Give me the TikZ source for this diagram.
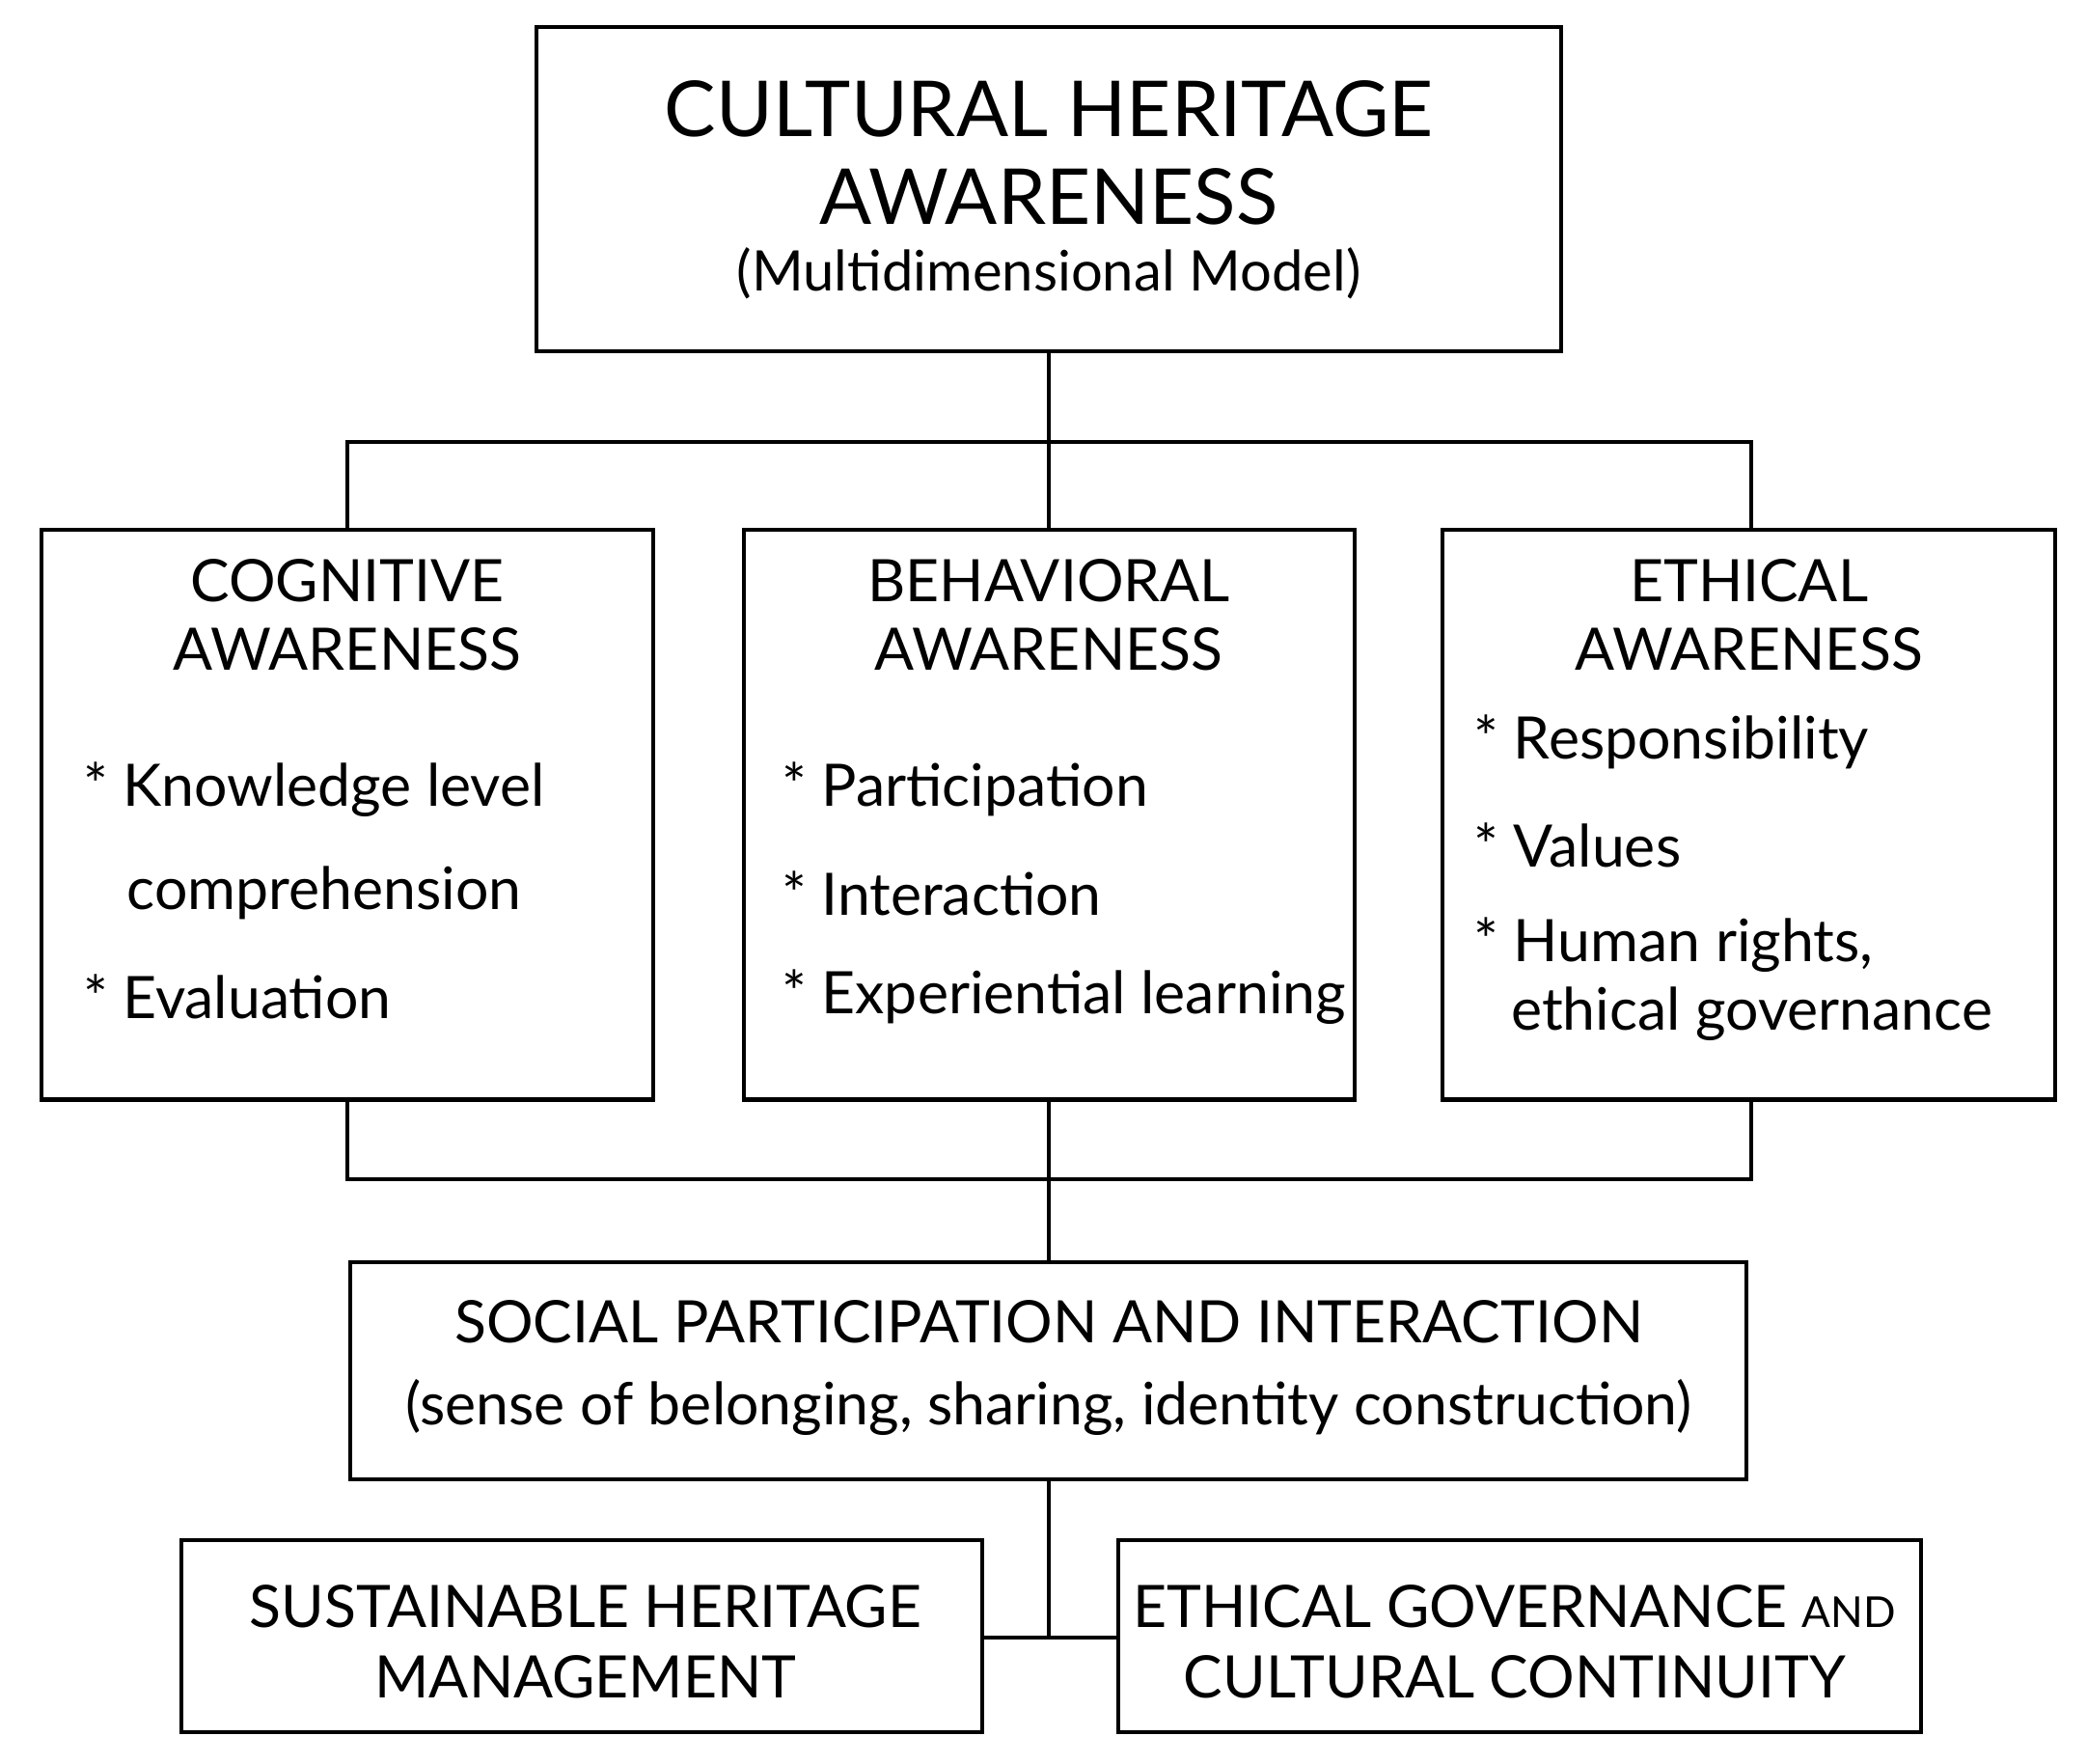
\documentclass[tikz,border=0pt]{standalone}
\usepackage{fontspec}
\setmainfont{Lato}
\begin{document}
\begin{tikzpicture}[x=0.5pt,y=-0.5pt,
  box/.style={draw,line width=1.5pt},
  ln/.style={line width=1.5pt},
  big/.style={font=\fontsize{29}{34}\selectfont},
  mid/.style={font=\fontsize{21}{25}\selectfont},
  txt/.style={font=\fontsize{22}{26}\selectfont,inner sep=0pt}]
\useasboundingbox (0,0) rectangle (1568,1325);
\draw[box] (403,20) rectangle (1173,264);
\draw[box] (31,398) rectangle (491,826);
\draw[box] (559,398) rectangle (1018,826);
\draw[box] (1084,398) rectangle (1544,826);
\draw[box] (263,948) rectangle (1312,1111);
\draw[box] (136,1157) rectangle (738,1301);
\draw[box] (840,1157) rectangle (1443,1301);
\coordinate (t) at (788,264); \coordinate (tj) at (788,332);
\coordinate (tl) at (261,332); \coordinate (tr) at (1316,332);
\draw[ln] (t) -- (tj) -- (788,398);
\draw[ln] (261,398) -- (tl) -- (tr) -- (1316,398);
\draw[ln] (261,826) -- (261,886) -- (1316,886) -- (1316,826);
\draw[ln] (788,826) -- (788,948);
\draw[ln] (788,1111) -- (788,1230);
\draw[ln] (738,1230) -- (840,1230);
\node[big,inner sep=0pt] (t1) at (788,82) {CULTURAL HERITAGE};
\node[big,inner sep=0pt] (t2) at (788,148) {AWARENESS};
\node[mid,inner sep=0pt] (t3) at (788,205) {(Multidimensional Model)};
\foreach \x/\a/\n in {261/COGNITIVE/c,788/BEHAVIORAL/b,1314/ETHICAL/e}{
  \node[txt] (\n1) at (\x,436) {\a};
  \node[txt] (\n2) at (\x,488) {AWARENESS};}
\node[txt,anchor=west] (c3) at (62,593) {* Knowledge level};
\node[txt,anchor=west] (c4) at (95,671) {comprehension};
\node[txt,anchor=west] (c5) at (62,749) {* Evaluation};
\node[txt,anchor=west] (b3) at (587,593) {* Participation};
\node[txt,anchor=west] (b4) at (587,671) {* Interaction};
\node[txt,anchor=west] (b5) at (587,749) {* Experiential learning};
\node[txt,anchor=west] (e3) at (1107,557) {* Responsibility};
\node[txt,anchor=west] (e4) at (1107,635) {* Values};
\node[txt,anchor=west] (e5) at (1107,710) {* Human rights,};
\node[txt,anchor=west] (e6) at (1135,762) {ethical governance};
\node[txt] (s1) at (788,993) {SOCIAL PARTICIPATION AND INTERACTION};
\node[txt] (s2) at (788,1057) {(sense of belonging, sharing, identity construction)};
\node[txt] (l1) at (440,1207) {SUSTAINABLE HERITAGE};
\node[txt] (l2) at (440,1260) {MANAGEMENT};
\node[txt] (r1) at (1138,1207) {ETHICAL GOVERNANCE {\fontsize{16}{20}\selectfont AND}};
\node[txt] (r2) at (1138,1260) {CULTURAL CONTINUITY};
\end{tikzpicture}
\end{document}
